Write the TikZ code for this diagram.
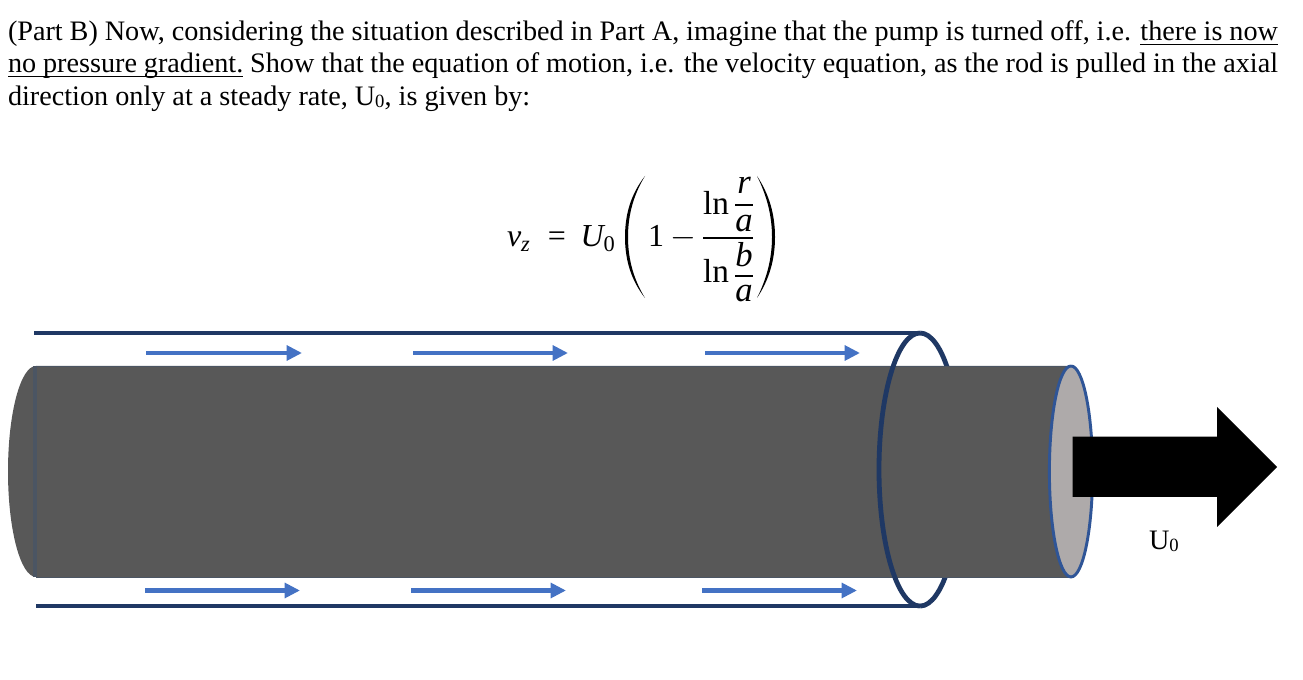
\documentclass[tikz,border=0pt]{standalone}
\usepackage[no-math]{fontspec}
\usepackage{amsmath}
\setmainfont{Liberation Serif}
\usetikzlibrary{arrows.meta}
\newcommand\ulw[1]{\setbox0\hbox{#1}\rlap{\rule[-3pt]{\wd0}{1pt}}\box0\relax}
\newcommand\usp{\leaders\hrule height -2pt depth 3pt\hskip\fontdimen2\font plus \fontdimen3\font minus \fontdimen4\font\relax}
\newcommand\sbz{\raisebox{-1.5pt}{\fontsize{14pt}{14pt}\selectfont 0}}
\newcommand\mi[1]{\text{\itshape #1}}
\definecolor{navy}{HTML}{1F3864}
\definecolor{flowblue}{HTML}{4472C4}
\definecolor{roddark}{HTML}{585858}
\definecolor{rodface}{HTML}{AEAAAA}
\definecolor{rodedge}{HTML}{2F5597}
\definecolor{rodline}{HTML}{4B5563}
\tikzset{
  x=0.75pt,y=-0.75pt,
  textline/.style={anchor=base west,inner sep=0pt,outer sep=0pt,font=\fontsize{21.15pt}{24pt}\selectfont},
  eqmain/.style={anchor=base west,inner sep=0pt,outer sep=0pt,font=\fontsize{24pt}{28pt}\selectfont},
  eqln/.style={anchor=base west,inner sep=0pt,outer sep=0pt,font=\fontsize{25pt}{28pt}\selectfont},
  eqvar/.style={anchor=base,inner sep=0pt,outer sep=0pt,font=\fontsize{26pt}{30pt}\selectfont\itshape},
  eqrule/.style={draw=black,line width=1.7pt},
  tube/.style={draw=navy,line width=3.4pt},
  ring/.style={draw=navy,line width=3.6pt},
  flow/.style={draw=flowblue,line width=3.4pt,-{Triangle[length=11.5pt,width=11pt]}},
}
\begin{document}
\begin{tikzpicture}
\useasboundingbox (0,0) rectangle (1303,680);
\fill[white] (0,0) rectangle (1303,680);
% text
\node[textline] (l1) at (8,41) {\hbox to 952.5pt{(Part B) Now, considering the situation described in Part A, imagine that the pump is turned off, i.e. \ulw{there}\usp\ulw{is}\usp\ulw{now}}};
\node[textline] (l2) at (8,73) {\hbox to 952.5pt{\ulw{no}\usp\ulw{pressure}\usp\ulw{gradient.} Show that the equation of motion, i.e. the velocity equation, as the rod is pulled in the axial}};
\node[textline] (l3) at (8,106) {direction only at a steady rate, U\sbz, is given by:};
% equation
\node[eqmain] (eqleft) at (507,247) {$\mi{v}_{\mi{z}}\hspace{13pt}\text{=}\hspace{11pt}\mi{U}_{\text{0}}$};
\node[eqmain] (eqone) at (648,247) {1\hspace{5pt}$-$};
\node[eqln] (lnup) at (703,215) {ln};
\node[eqvar] (numr) at (744,194) {r};
\node[eqvar] (numa) at (744,232) {a};
\node[eqln] (lndn) at (703,283) {ln};
\node[eqvar] (denb) at (744,267) {b};
\node[eqvar] (dena) at (744,302) {a};
\draw[eqrule] (735,205) -- (753,205);
\draw[eqrule] (703,238) -- (753,238);
\draw[eqrule] (735,276) -- (753,276);
\fill[black] (645,176) .. controls (631,194) and (625,214) .. (625,237) .. controls (625,260) and (631,280) .. (645,298) .. controls (634,280) and (628,260) .. (628,237) .. controls (628,214) and (634,194) .. (645,176) -- cycle;
\fill[black] (757,176) .. controls (769,194) and (775,214) .. (775,237) .. controls (775,260) and (769,280) .. (757,298) .. controls (766,280) and (772,260) .. (772,237) .. controls (772,214) and (766,194) .. (757,176) -- cycle;
% ring, back half and tube lines
\draw[ring] (920,333) arc[start angle=90,end angle=-90,x radius=30.75pt,y radius=102.4pt];
\draw[tube] (34,333) -- (920,333);
\draw[tube] (36,606) -- (920,606);
% flow arrows
\draw[flow] (146,353) -- (302,353);
\draw[flow] (413,353) -- (568,353);
\draw[flow] (705,353) -- (860,353);
\draw[flow] (145,590.5) -- (300,590.5);
\draw[flow] (411,590.5) -- (566,590.5);
\draw[flow] (702,590.5) -- (857,590.5);
% rod
\fill[roddark] (36,366) arc[start angle=90,end angle=270,x radius=21pt,y radius=79.1pt] -- (1071,577) -- (1071,366) -- cycle;
\draw[rodline,line width=2.5pt] (35,366) -- (35,577);
\draw[rodline,line width=0.6pt] (36,366) -- (1071,366);
\draw[rodline,line width=0.6pt] (36,577) -- (1071,577);
\draw[rodedge,fill=rodface,line width=2.2pt] (1071,366) arc[start angle=90,end angle=450,x radius=16.2pt,y radius=79.1pt];
% ring, front half
\draw[ring] (920,333) arc[start angle=90,end angle=270,x radius=30.75pt,y radius=102.4pt];
% pull arrow
\fill[black] (1072.7,436.7) -- (1217,436.7) -- (1217,407) -- (1277,467) -- (1217,527) -- (1217,497) -- (1072.7,497) -- cycle;
\node[textline] (u0) at (1149,550) {U\sbz};
\end{tikzpicture}
\end{document}
